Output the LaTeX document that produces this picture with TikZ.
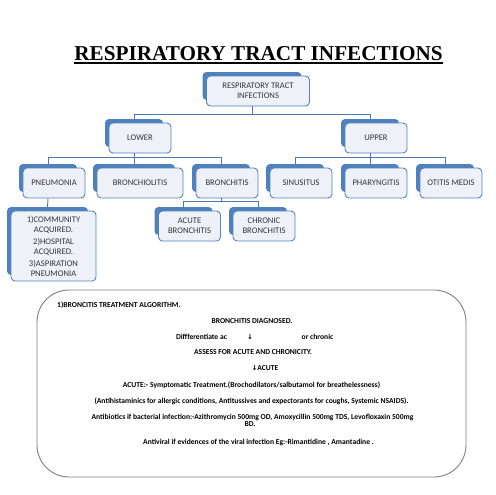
\documentclass[tikz,border=0pt]{standalone}
\usepackage{fontspec}
\setmainfont{Carlito}
\newfontfamily\titlefont{Liberation Serif}
\newfontfamily\arrowfont{DejaVu Sans}
\definecolor{backblue}{HTML}{4F81BD}
\definecolor{frontline}{HTML}{5483BE}
\definecolor{frontfill}{HTML}{EEF2F8}
\definecolor{linkblue}{HTML}{5078AE}
\definecolor{txtgray}{HTML}{333333}
\definecolor{panelgray}{HTML}{7F7F7F}
\tikzset{
  backbox/.style={fill=backblue, draw=none, rounded corners=4pt, inner sep=0pt},
  frontbox/.style={fill=frontfill, draw=frontline, line width=0.9pt, rounded corners=4pt,
     inner sep=0pt, align=center, text=txtgray, font=\fontsize{8.6}{10}\selectfont},
  link/.style={draw=linkblue, line width=0.9pt},
  panel/.style={draw=panelgray, line width=0.9pt, rounded corners=32pt},
  ptext/.style={inner sep=0pt, font=\bfseries\fontsize{7.6}{8}\selectfont, text=black},
}
\newcommand\tpair[6]{%
  \node[backbox, minimum width=#4, minimum height=#5] (#1b) at (#2,#3) {};
  \node[frontbox, minimum width=#4+4, minimum height=#5+2] (#1) at ([shift={(6,5)}]#1b.center) {#6};
}
\begin{document}
\begin{tikzpicture}[x=1pt,y=-1pt]
\useasboundingbox[fill=white] (0,0) rectangle (495,495);
% title
\node[inner sep=0pt, anchor=base, font=\titlefont\bfseries\fontsize{21.2}{24}\selectfont] (title) at (258.5,61) {RESPIRATORY TRACT INFECTIONS};
\draw[line width=1.3pt] ([yshift=-2pt]title.base west) -- ([yshift=-2pt]title.base east);
% tree boxes
\tpair{root}{252}{86}{99}{28}{RESPIRATORY TRACT\\INFECTIONS}
\tpair{lower}{134}{133}{58}{28}{LOWER}
\tpair{upper}{370}{133}{58}{28}{UPPER}
\tpair{pn}{48}{178}{58}{28}{PNEUMONIA}
\tpair{bio}{134}{178}{82}{28}{BRONCHIOLITIS}
\tpair{bch}{221}{178}{58}{28}{BRONCHITIS}
\tpair{sin}{295}{178}{58}{28}{SINUSITUS}
\tpair{pha}{370}{178}{58}{28}{PHARYNGITIS}
\tpair{oti}{445}{178}{58}{28}{OTITIS MEDIS}
\tpair{acu}{183.5}{221}{58}{28}{ACUTE\\BRONCHITIS}
\tpair{chr}{258}{221}{58}{28}{CHRONIC\\BRONCHITIS}
\tpair{lst}{47.5}{241}{81}{68}{1)COMMUNITY\\ACQUIRED.\\[2pt]2)HOSPITAL\\ACQUIRED.\\[2pt]3)ASPIRATION\\PNEUMONIA}
% connectors
\draw[link] (rootb |- root.south) -- ++(0,8) coordinate (r1);
\draw[link] (lowerb.north) |- (r1) -| (upperb.north);
\draw[link] (lowerb |- lower.south) -- ++(0,4) coordinate (l1);
\draw[link] (pnb.north) |- (l1) -| (bchb.north);
\draw[link] (l1) -- (biob.north);
\draw[link] (upperb |- upper.south) -- ++(0,4) coordinate (u1);
\draw[link] (sinb.north) |- (u1) -| (otib.north);
\draw[link] (u1) -- (phab.north);
\draw[link] (bchb |- bch.south) -- ++(0,3) coordinate (c1);
\draw[link] (acub.north) |- (c1) -| (chrb.north);
\draw[link] (pnb |- pn.south) -- (lstb.north);
% panel
\draw[panel] (37,290) rectangle (466,477);
\node[ptext, anchor=west] (t1) at (57,305) {1)BRONCITIS TREATMENT ALGORITHM.};
\node[ptext] (t2) at (252,321) {BRONCHITIS DIAGNOSED.};
\node[ptext] (t3a) at (201.5,337) {Diffferentiate ac};
\node[ptext, font=\arrowfont\bfseries\fontsize{7}{8}\selectfont] (t3b) at (250,337) {↓};
\node[ptext] (t3c) at (317.5,337) {or chronic};
\node[ptext] (t4) at (253,352) {ASSESS FOR ACUTE AND CHRONICITY.};
\node[ptext] (t5) at (265,368) {{\arrowfont\fontsize{7}{8}\selectfont ↓}ACUTE};
\node[ptext] (t6) at (251.5,385) {ACUTE:- Symptomatic Treatment.(Brochodilators/salbutamol for breathelessness)};
\node[ptext] (t7) at (251.5,401) {(Antihistaminics for allergic conditions, Antitussives and expectorants for coughs, Systemic NSAIDS).};
\node[ptext] (t8) at (252.5,417) {Antibiotics if bacterial infection:-Azithromycin 500mg OD, Amoxycillin 500mg TDS, Levofloxaxin 500mg};
\node[ptext] (t9) at (250,424.5) {BD.};
\node[ptext] (t10) at (258.5,442) {Antiviral if evidences of the viral infection Eg:-Rimantidine , Amantadine .};
\end{tikzpicture}
\end{document}
